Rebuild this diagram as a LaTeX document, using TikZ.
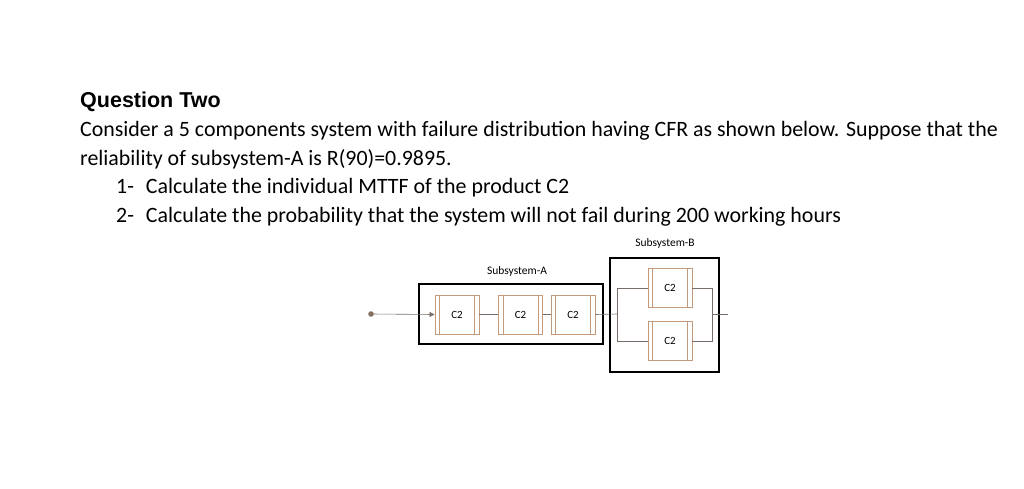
\documentclass[tikz,border=0pt]{standalone}
\usepackage{fontspec}
\usetikzlibrary{arrows.meta}
\setmainfont{Carlito}
\newfontfamily\arialf{Liberation Sans}
\definecolor{brn}{RGB}{196,154,122}
\definecolor{lin}{RGB}{120,110,105}
\begin{document}
\begin{tikzpicture}[x=1pt,y=-1pt,
  comp/.style={draw=brn,line width=0.9pt,minimum width=44pt,minimum height=39pt,inner sep=0pt,font=\fontsize{11}{12}\selectfont,
    append after command={\pgfextra{\let\mn\tikzlastnode
      \draw[brn,line width=0.9pt] ([xshift=5pt]\mn.north west)--([xshift=5pt]\mn.south west)
        ([xshift=-5pt]\mn.north east)--([xshift=-5pt]\mn.south east);}}},
  sub/.style={draw,line width=1.8pt,inner sep=0pt},
  wire/.style={lin,line width=0.6pt},
  lbl/.style={font=\fontsize{11.5}{12}\selectfont},
  txt/.style={anchor=west,inner sep=0pt,font=\fontsize{21.9}{24}\selectfont}]
\useasboundingbox (0,0) rectangle (1024,489);
\node[txt,font=\arialf\bfseries\fontsize{21.5}{24}\selectfont] (q) at (80,102) {Question Two};
\node[txt] (l1) at (80,131) {Consider a 5 components system with failure distribution having CFR as shown below. Suppose that the};
\node[txt] (l2) at (80,159) {reliability of subsystem-A is R(90)=0.9895.};
\node[txt] (l3) at (116,188) {1-\hspace{12pt}Calculate the individual MTTF of the product C2};
\node[txt] (l4) at (116,217) {2-\hspace{12pt}Calculate the probability that the system will not fail during 200 working hours};
% subsystem boxes
\node[sub,minimum width=184pt,minimum height=60pt] (sa) at (511,314) {};
\node[sub,minimum width=109pt,minimum height=114pt] (sb) at (664.5,315) {};
\node[lbl] (la) at (517,271) {Subsystem-A};
\node[lbl] (lb) at (665,243) {Subsystem-B};
% components
\node[comp] (c1) at (457,314.5) {C2};
\node[comp] (c2) at (520.5,314.5) {C2};
\node[comp] (c3) at (573,314.5) {C2};
\node[comp] (c4) at (670,288) {C2};
\node[comp] (c5) at (670,341) {C2};
\fill[lin!80!brown] (371,314) circle (2.8pt) coordinate (dot);
\coordinate (bl) at (617,314);
\coordinate (br) at (712,314);
\coordinate (end) at (728,314);
\draw[wire,-{Triangle[length=5pt,width=5pt]}] (dot) -- (c1.west);
\draw[wire] (c1.east) -- (c2.west);
\draw[wire] (c2.east) -- (c3.west);
\draw[wire] (c3.east) -- (bl);
\draw[wire] (c4.west) -| (bl) |- (c5.west);
\draw[wire] (c4.east) -| (br) |- (c5.east);
\draw[wire] (br) -- (end);
\end{tikzpicture}
\end{document}
